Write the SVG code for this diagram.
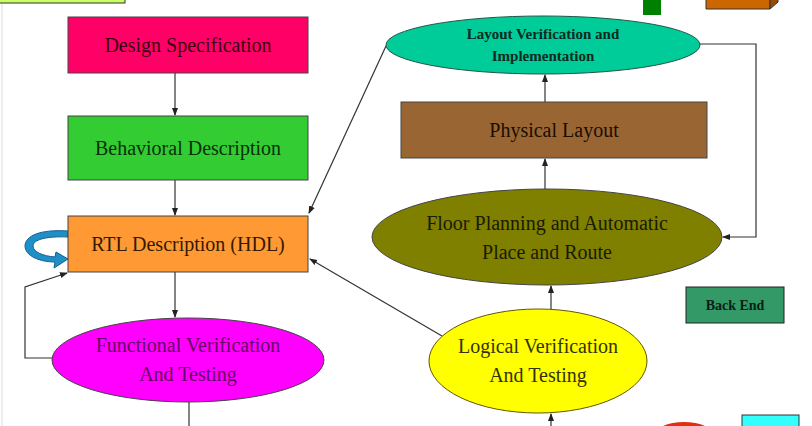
<svg xmlns="http://www.w3.org/2000/svg" width="812" height="426" viewBox="0 0 812 426">
<defs>
<marker id="ah" markerWidth="8" markerHeight="8" refX="7" refY="4" orient="auto" markerUnits="userSpaceOnUse"><path d="M0,1 L8,4 L0,7 z" fill="#222"/></marker>
<style>
.t{font-family:"Liberation Serif",serif;font-size:20px;text-anchor:middle}
.b{font-family:"Liberation Serif",serif;font-size:15px;font-weight:bold;text-anchor:middle}
.c{fill:none;stroke:#333;stroke-width:1.2}
</style>
</defs>
<rect width="812" height="426" fill="#fff"/>
<line x1="2" y1="0" x2="2" y2="426" stroke="#ddd"/>
<g id="decor">
<rect x="-2" y="-5" width="127" height="8" fill="#ccff66" stroke="#333"/>
<rect x="643" y="-2" width="18" height="17" fill="#008000"/>
<path d="M706,-2 H770 V9 H706 z" fill="#cc6600" stroke="#333"/>
<path d="M770,9 L778,2 V-2 H770 z" fill="#994c00" stroke="#333"/>
<ellipse cx="684" cy="436" rx="30" ry="14" fill="#e03010"/>
<rect x="742" y="415" width="57" height="14" fill="#33ffff" stroke="#333"/>
</g>
<g id="connectors">
<line class="c" x1="175" y1="73" x2="175" y2="115" marker-end="url(#ah)"/>
<line class="c" x1="175" y1="180" x2="175" y2="215" marker-end="url(#ah)"/>
<line class="c" x1="175" y1="272" x2="175" y2="317" marker-end="url(#ah)"/>
<line class="c" x1="189" y1="402" x2="189" y2="426"/>
<polyline class="c" points="53,358 25,358 25,287 67,273" marker-end="url(#ah)"/>
<line class="c" x1="386" y1="46" x2="309" y2="213" marker-end="url(#ah)"/>
<line class="c" x1="442" y1="336" x2="310" y2="259" marker-end="url(#ah)"/>
<line class="c" x1="551" y1="426" x2="551" y2="414" marker-end="url(#ah)"/>
<line class="c" x1="551" y1="309" x2="551" y2="286" marker-end="url(#ah)"/>
<line class="c" x1="545" y1="189" x2="545" y2="159" marker-end="url(#ah)"/>
<line class="c" x1="545" y1="102" x2="545" y2="75" marker-end="url(#ah)"/>
<polyline class="c" points="699,44 756,44 756,237 723,237" marker-end="url(#ah)"/>
<path d="M68,231 C40,229 25,236 25,246 C25,256 40,262 55,262 L54,268 L68,259 L56,252 L55,257 C43,256 33,252 33,246 C33,240 45,236 68,237 z" fill="#1f8fc8" stroke="#14608a" stroke-width="1"/>
</g>
<g id="design"><rect x="68" y="17" width="240" height="56" fill="#ff0066" stroke="#444"/><text class="t" x="188" y="52" fill="#3a0010">Design Specification</text></g>
<g id="behavioral"><rect x="68" y="116" width="240" height="64" fill="#33cc33" stroke="#444"/><text class="t" x="188" y="155" fill="#0a300a">Behavioral Description</text></g>
<g id="rtl"><rect x="68" y="216" width="240" height="56" fill="#ff9933" stroke="#444"/><text class="t" x="188" y="251" fill="#331a00">RTL Description (HDL)</text></g>
<g id="functional"><ellipse cx="188" cy="360" rx="136" ry="42" fill="#ff00ff" stroke="#444"/><text class="t" x="188" y="352" fill="#660066">Functional Verification</text><text class="t" x="188" y="381" fill="#660066">And Testing</text></g>
<g id="logical"><ellipse cx="538" cy="361" rx="109" ry="52" fill="#ffff00" stroke="#665500"/><text class="t" x="538" y="353" fill="#333300">Logical Verification</text><text class="t" x="538" y="382" fill="#333300">And Testing</text></g>
<g id="floor"><ellipse cx="547" cy="237" rx="175" ry="48" fill="#808000" stroke="#444"/><text class="t" x="547" y="230" fill="#1a1a00">Floor Planning and Automatic</text><text class="t" x="547" y="259" fill="#1a1a00">Place and Route</text></g>
<g id="physical"><rect x="401" y="102" width="306" height="56" fill="#996633" stroke="#444"/><text class="t" x="554" y="137" fill="#1a0d00">Physical Layout</text></g>
<g id="layoutver"><ellipse cx="543" cy="45" rx="157" ry="29" fill="#00cc99" stroke="#225544"/><text class="b" x="543" y="39" fill="#0a2a20">Layout Verification and</text><text class="b" x="543" y="61" fill="#0a2a20">Implementation</text></g>
<g id="backend"><rect x="686" y="287" width="98" height="36" fill="#339966" stroke="#222"/><text class="b" x="735" y="310" fill="#0a2015" style="font-size:14px">Back End</text></g>
</svg>
